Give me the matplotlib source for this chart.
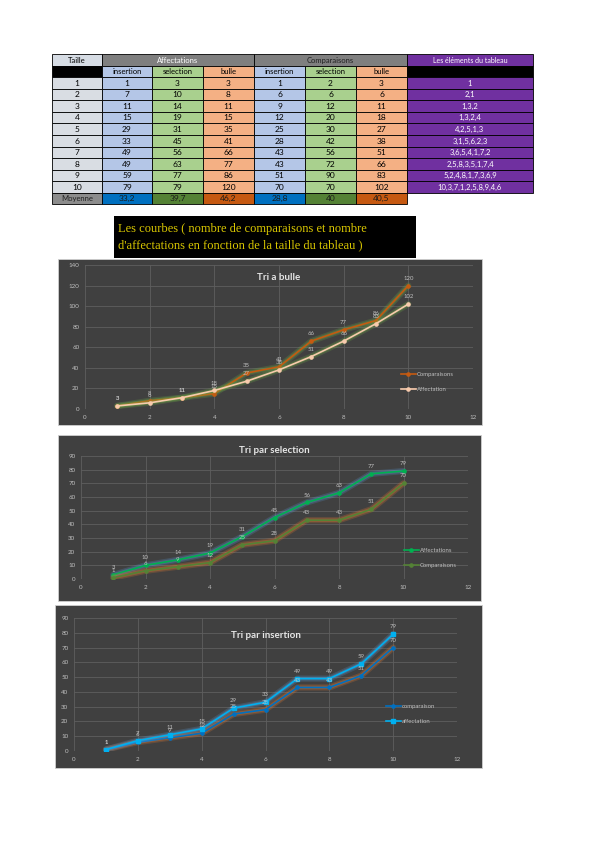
import numpy as np
import matplotlib
matplotlib.use("Agg")
import matplotlib.pyplot as plt
from matplotlib.patches import Rectangle
import matplotlib.patheffects as pe

plt.rcParams['font.family'] = ['Lato', 'DejaVu Sans']

W, H = 595, 842

# ---- table data ----
tailles = [1, 2, 3, 4, 5, 6, 7, 8, 9, 10]
aff_insertion = [1, 7, 11, 15, 29, 33, 49, 49, 59, 79]
aff_selection = [3, 10, 14, 19, 31, 45, 56, 63, 77, 79]
aff_bulle = [3, 8, 11, 15, 35, 41, 66, 77, 86, 120]
comp_insertion = [1, 6, 9, 12, 25, 28, 43, 43, 51, 70]
comp_selection = [2, 6, 12, 20, 30, 42, 56, 72, 90, 70]
comp_bulle = [3, 6, 11, 18, 27, 38, 51, 66, 83, 102]
elements = ["1", "2,1", "1,3,2", "1,3,2,4", "4,2,5,1,3", "3,1,5,6,2,3",
            "3,6,5,4,1,7,2", "2,5,8,3,5,1,7,4", "5,2,4,8,1,7,3,6,9",
            "10,3,7,1,2,5,8,9,4,6"]
moyennes = ["33,2", "39,7", "46,2", "28,8", "40", "40,5"]
sub_headers = ["insertion", "selection", "bulle"]

heading = ("Les courbes ( nombre de comparaisons et nombre\n"
           "d'affectations en fonction de la taille du tableau )")


def px(x0, y0, x1, y1):
    return [x0 / W, 1 - y1 / H, (x1 - x0) / W, (y1 - y0) / H]


fig = plt.figure(figsize=(W / 100, H / 100), dpi=100)
fig.patch.set_facecolor("white")

# overlay axes in pixel coordinates for the table and heading
ov = fig.add_axes([0, 0, 1, 1])
ov.set_xlim(0, W)
ov.set_ylim(H, 0)
ov.axis("off")

col_x = [52, 102, 152, 203, 254, 305, 356, 407, 533]
row_y = [54, 66, 77] + [77 + 11.6 * (i + 1) for i in range(10)] + [204]

light = ["#b4c6e7", "#a9d08e", "#f4b084"] * 2
dark = ["#0070c0", "#548235", "#c65911"] * 2
columns = [aff_insertion, aff_selection, aff_bulle,
           comp_insertion, comp_selection, comp_bulle]


def cell(x0, x1, y0, y1, fc, txt="", tc="black", fs=6):
    ov.add_patch(Rectangle((x0, y0), x1 - x0, y1 - y0, facecolor=fc,
                           edgecolor="black", linewidth=0.6))
    if txt != "":
        ov.text((x0 + x1) / 2, (y0 + y1) / 2 + 0.3, txt, ha="center",
                va="center", fontsize=fs, color=tc)


# header rows
cell(col_x[0], col_x[1], row_y[0], row_y[1], "#d6dce4", "Taille", fs=5.5)
cell(col_x[1], col_x[4], row_y[0], row_y[1], "#7f7f7f", "Affectations", "white", 5.5)
cell(col_x[4], col_x[7], row_y[0], row_y[1], "#7f7f7f", "Comparaisons", "#202020", 5.5)
cell(col_x[7], col_x[8], row_y[0], row_y[1], "#7030a0", "Les éléments du tableau", "white", 5)
cell(col_x[0], col_x[1], row_y[1], row_y[2], "black")
for j in range(6):
    cell(col_x[j + 1], col_x[j + 2], row_y[1], row_y[2], light[j], sub_headers[j % 3], fs=5.5)
cell(col_x[7], col_x[8], row_y[1], row_y[2], "black")

# body rows
for i, t in enumerate(tailles):
    y0, y1 = row_y[2 + i], row_y[3 + i]
    cell(col_x[0], col_x[1], y0, y1, "#d9dde3", str(t))
    for j in range(6):
        cell(col_x[j + 1], col_x[j + 2], y0, y1, light[j], str(columns[j][i]))
    cell(col_x[7], col_x[8], y0, y1, "#7030a0", elements[i], "white", 5.5)

# Moyenne row
y0, y1 = row_y[12], row_y[13]
cell(col_x[0], col_x[1], y0, y1, "#8c8c8c", "Moyenne", "#202020", 5.5)
for j in range(6):
    cell(col_x[j + 1], col_x[j + 2], y0, y1, dark[j], moyennes[j], "#1a1a1a")

# heading box
ov.add_patch(Rectangle((114, 216), 302, 42, facecolor="black", edgecolor="none"))
ov.text(118, 237, heading, ha="left", va="center", fontsize=9,
        color="#d9c700", family=["Liberation Serif", "DejaVu Serif"],
        linespacing=1.4)


def make_chart(area, plot, ymax, ystep, title, title_y, series, legend_pos):
    ov.add_patch(Rectangle((area[0], area[1]), area[2] - area[0], area[3] - area[1],
                           facecolor="#404040", edgecolor="#d0d0d0", linewidth=0.6,
                           zorder=0))
    ax = fig.add_axes(px(*plot))
    ax.set_facecolor("#404040")
    ax.set_xlim(0, 12)
    ax.set_ylim(0, ymax)
    ax.set_xticks(range(0, 13, 2))
    ax.set_yticks(range(0, ymax + 1, ystep))
    ax.tick_params(colors="#bfbfbf", labelsize=4.5, length=0, pad=4)
    for s in ax.spines.values():
        s.set_visible(False)
    ax.grid(True, color="#5e5e5e", linewidth=0.6)
    ax.set_axisbelow(True)
    for name, vals, col, gcol, mk in series:
        # soft glow behind the line
        ax.plot(tailles, vals, color=gcol, linewidth=4.5, alpha=0.22,
                solid_capstyle="round", solid_joinstyle="round")
        ax.plot(tailles, vals, color=gcol, linewidth=2.6, alpha=0.3,
                solid_capstyle="round", solid_joinstyle="round")
        ax.plot(tailles, vals, color=col, linewidth=1.2, marker=mk,
                markersize=2.3, label=name)
        for x, v in zip(tailles, vals):
            ax.annotate(str(v), (x, v), xytext=(0, 3.5), textcoords="offset points",
                        ha="center", va="bottom", fontsize=4.3, color="#bfbfbf")
    ax.set_title(title, color="#e6e6e6", fontsize=7, fontweight="bold",
                 y=title_y, pad=2)
    ax.legend(loc="center left", bbox_to_anchor=legend_pos, frameon=False,
              fontsize=4.3, labelcolor="#bfbfbf", handlelength=2.5,
              labelspacing=1.6, handletextpad=0.2)
    return ax


make_chart((58, 259, 482, 425), (85, 265, 473, 409), 140, 20, "Tri a bulle", 0.88,
           [("Comparaisons", aff_bulle, "#c55a11", "#70ad47", "o"),
            ("Affectation", comp_bulle, "#f8cbad", "#70ad47", "o")],
           (0.80, 0.19))

make_chart((58, 435, 481, 601), (81, 456, 468, 579), 90, 10, "Tri par selection", 1.0,
           [("Affectations", aff_selection, "#00b050", "#5b9bd5", "o"),
            ("Comparaisons", comp_insertion, "#548235", "#ed7d31", "o")],
           (0.82, 0.17))

make_chart((55, 605, 482, 768), (74, 618, 457, 751), 90, 10, "Tri par insertion", 0.83,
           [("comparaison", comp_insertion, "#0070c0", "#ed7d31", "o"),
            ("affectation", aff_insertion, "#00b0f0", "#5b9bd5", "s")],
           (0.80, 0.28))

fig.savefig("out.png", dpi=100)
